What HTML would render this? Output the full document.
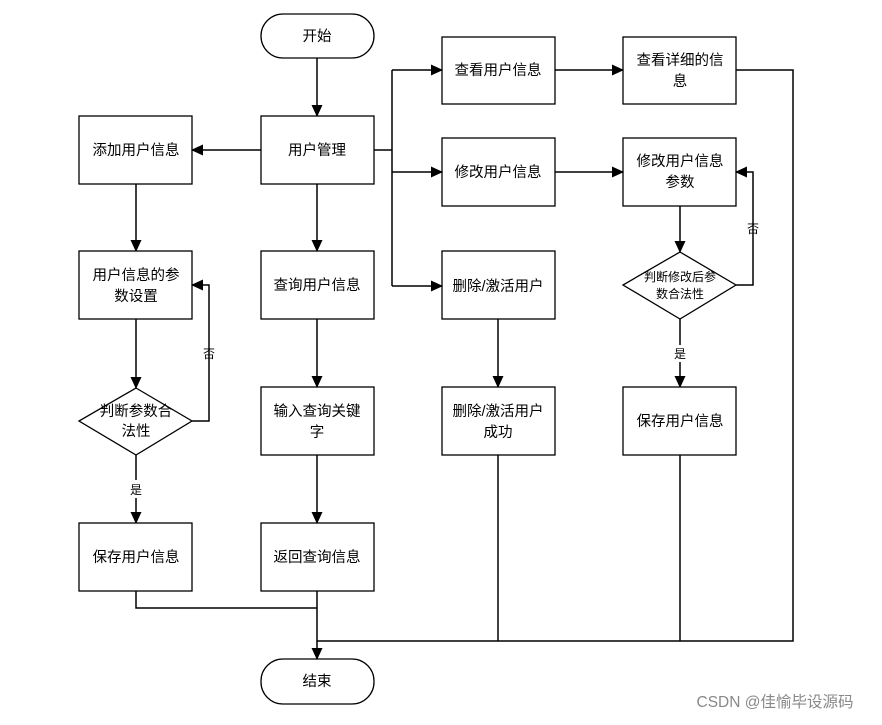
<!DOCTYPE html>
<html><head><meta charset="utf-8"><style>
body{margin:0;background:#fff;}
svg text{font-family:"Liberation Sans","Noto Sans CJK SC",sans-serif;font-size:14.5px;fill:#000;text-anchor:middle;}
</style></head><body>
<svg width="882" height="720" xmlns="http://www.w3.org/2000/svg">
<defs><marker id="a" markerWidth="12" markerHeight="12" refX="11" refY="6" orient="auto" markerUnits="userSpaceOnUse"><path d="M0,0.5 L12,6 L0,11.5 z" fill="#000"/></marker></defs>
<g fill="#fff" stroke="#000" stroke-width="1.3">
<rect x="261" y="14" width="113" height="44" rx="22"/>
<rect x="261" y="659" width="113" height="45" rx="22"/>
<rect x="261" y="116" width="113" height="68"/>
<rect x="79" y="116" width="113" height="68"/>
<rect x="79" y="251" width="113" height="68"/>
<polygon points="136,388 192,421 136,455 79,421"/>
<rect x="79" y="523" width="113" height="68"/>
<rect x="261" y="251" width="113" height="68"/>
<rect x="261" y="387" width="113" height="68"/>
<rect x="261" y="523" width="113" height="68"/>
<rect x="442" y="37" width="113" height="67"/>
<rect x="442" y="138" width="113" height="68"/>
<rect x="442" y="251" width="113" height="68"/>
<rect x="442" y="387" width="113" height="68"/>
<rect x="623" y="37" width="113" height="67"/>
<rect x="623" y="138" width="113" height="68"/>
<polygon points="680,252 736,285 680,319 623,285"/>
<rect x="623" y="387" width="113" height="68"/>
</g>
<g fill="none" stroke="#000" stroke-width="1.5">
<line x1="317" y1="58" x2="317" y2="116" marker-end="url(#a)"/>
<line x1="261" y1="150" x2="192" y2="150" marker-end="url(#a)"/>
<line x1="136" y1="184" x2="136" y2="251" marker-end="url(#a)"/>
<line x1="136" y1="319" x2="136" y2="388" marker-end="url(#a)"/>
<polyline points="192,421 209,421 209,285 192,285" marker-end="url(#a)"/>
<line x1="136" y1="455" x2="136" y2="480"/>
<line x1="136" y1="498" x2="136" y2="523" marker-end="url(#a)"/>
<line x1="317" y1="184" x2="317" y2="251" marker-end="url(#a)"/>
<line x1="317" y1="319" x2="317" y2="387" marker-end="url(#a)"/>
<line x1="317" y1="455" x2="317" y2="523" marker-end="url(#a)"/>
<line x1="317" y1="591" x2="317" y2="659" marker-end="url(#a)"/>
<polyline points="136,591 136,608 317,608"/>
<polyline points="374,150 392,150"/>
<line x1="392" y1="70" x2="392" y2="286"/>
<line x1="392" y1="70" x2="442" y2="70" marker-end="url(#a)"/>
<line x1="392" y1="172" x2="442" y2="172" marker-end="url(#a)"/>
<line x1="392" y1="286" x2="442" y2="286" marker-end="url(#a)"/>
<line x1="555" y1="70" x2="623" y2="70" marker-end="url(#a)"/>
<line x1="555" y1="172" x2="623" y2="172" marker-end="url(#a)"/>
<line x1="498" y1="319" x2="498" y2="387" marker-end="url(#a)"/>
<line x1="680" y1="206" x2="680" y2="252" marker-end="url(#a)"/>
<polyline points="736,285 753,285 753,172 736,172" marker-end="url(#a)"/>
<line x1="680" y1="319" x2="680" y2="345"/>
<line x1="680" y1="362" x2="680" y2="387" marker-end="url(#a)"/>
<polyline points="736,70 793,70 793,641 317,641"/>
<line x1="498" y1="455" x2="498" y2="641"/>
<line x1="680" y1="455" x2="680" y2="641"/>
</g>
<text x="317" y="41">开始</text>
<text x="317" y="686">结束</text>
<text x="317" y="155">用户管理</text>
<text x="136" y="155">添加用户信息</text>
<text x="136" y="280">用户信息的参</text>
<text x="136" y="301">数设置</text>
<text x="136" y="416">判断参数合</text>
<text x="136" y="436">法性</text>
<text x="136" y="562">保存用户信息</text>
<text x="317" y="290">查询用户信息</text>
<text x="317" y="416">输入查询关键</text>
<text x="317" y="437">字</text>
<text x="317" y="562">返回查询信息</text>
<text x="498" y="75">查看用户信息</text>
<text x="498" y="177">修改用户信息</text>
<text x="498" y="291">删除/激活用户</text>
<text x="498" y="416">删除/激活用户</text>
<text x="498" y="437">成功</text>
<text x="680" y="65">查看详细的信</text>
<text x="680" y="86">息</text>
<text x="680" y="166">修改用户信息</text>
<text x="680" y="187">参数</text>
<text x="680" y="281" style="font-size:12px">判断修改后参</text>
<text x="680" y="298" style="font-size:12px">数合法性</text>
<text x="680" y="426">保存用户信息</text>
<text x="209" y="358" style="font-size:12px">否</text>
<text x="136" y="494" style="font-size:12px">是</text>
<text x="753" y="233" style="font-size:12px">否</text>
<text x="680" y="358" style="font-size:12px">是</text>
<text x="775" y="707" style="font-size:15.5px;fill:#888">CSDN @佳愉毕设源码</text>
</svg>
</body></html>
